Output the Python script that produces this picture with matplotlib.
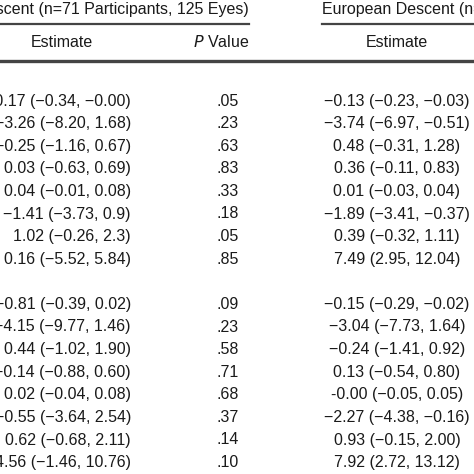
import matplotlib.pyplot as plt

plt.rcParams['font.family'] = ['Liberation Sans', 'DejaVu Sans']

afr_est = ["−0.17 (−0.34, −0.00)", "−3.26 (−8.20, 1.68)", "−0.25 (−1.16, 0.67)",
           "0.03 (−0.63, 0.69)", "0.04 (−0.01, 0.08)", "−1.41 (−3.73, 0.9)",
           "1.02 (−0.26, 2.3)", "0.16 (−5.52, 5.84)",
           "−0.81 (−0.39, 0.02)", "−4.15 (−9.77, 1.46)", "0.44 (−1.02, 1.90)",
           "−0.14 (−0.88, 0.60)", "0.02 (−0.04, 0.08)", "−0.55 (−3.64, 2.54)",
           "0.62 (−0.68, 2.11)", "4.56 (−1.46, 10.76)"]
afr_p = [".05", ".23", ".63", ".83", ".33", ".18", ".05", ".85",
         ".09", ".23", ".58", ".71", ".68", ".37", ".14", ".10"]
eur_est = ["−0.13 (−0.23, −0.03)", "−3.74 (−6.97, −0.51)", "0.48 (−0.31, 1.28)",
           "0.36 (−0.11, 0.83)", "0.01 (−0.03, 0.04)", "−1.89 (−3.41, −0.37)",
           "0.39 (−0.32, 1.11)", "7.49 (2.95, 12.04)",
           "−0.15 (−0.29, −0.02)", "−3.04 (−7.73, 1.64)", "−0.24 (−1.41, 0.92)",
           "0.13 (−0.54, 0.80)", "-0.00 (−0.05, 0.05)", "−2.27 (−4.38, −0.16)",
           "0.93 (−0.15, 2.00)", "7.92 (2.72, 13.12)"]

fig = plt.figure(figsize=(4.74, 4.74), dpi=100)
ax = fig.add_axes([0, 0, 1, 1])
ax.set_xlim(0, 474)
ax.set_ylim(474, 0)
ax.axis('off')

fs = 11.5
col = '#1a1a1a'
ax.text(249, 9, "African Descent (n=71 Participants, 125 Eyes)", ha='right', va='center', fontsize=fs, color=col)
ax.text(322, 9, "European Descent (n=138 Participants, 246 Eyes)", ha='left', va='center', fontsize=fs, color=col)
ax.plot([0, 249], [24, 24], color='#444444', lw=1.6)
ax.plot([322, 474], [24, 24], color='#444444', lw=1.6)
ax.text(62, 42, "Estimate", ha='center', va='center', fontsize=fs, color=col)
ax.text(249, 42, "$P$ Value", ha='right', va='center', fontsize=fs, color=col)
ax.text(397, 42, "Estimate", ha='center', va='center', fontsize=fs, color=col)
ax.plot([0, 474], [61, 61], color='#444444', lw=2.4)

for i in range(len(afr_est)):
    y = 101 + (i + (1 if i >= 8 else 0)) * 22.6
    ax.text(131, y, afr_est[i], ha='right', va='center', fontsize=fs, color=col)
    ax.text(228, y, afr_p[i], ha='center', va='center', fontsize=fs, color=col)
    ax.text(397, y, eur_est[i], ha='center', va='center', fontsize=fs, color=col)

fig.savefig("out.png", dpi=100)
